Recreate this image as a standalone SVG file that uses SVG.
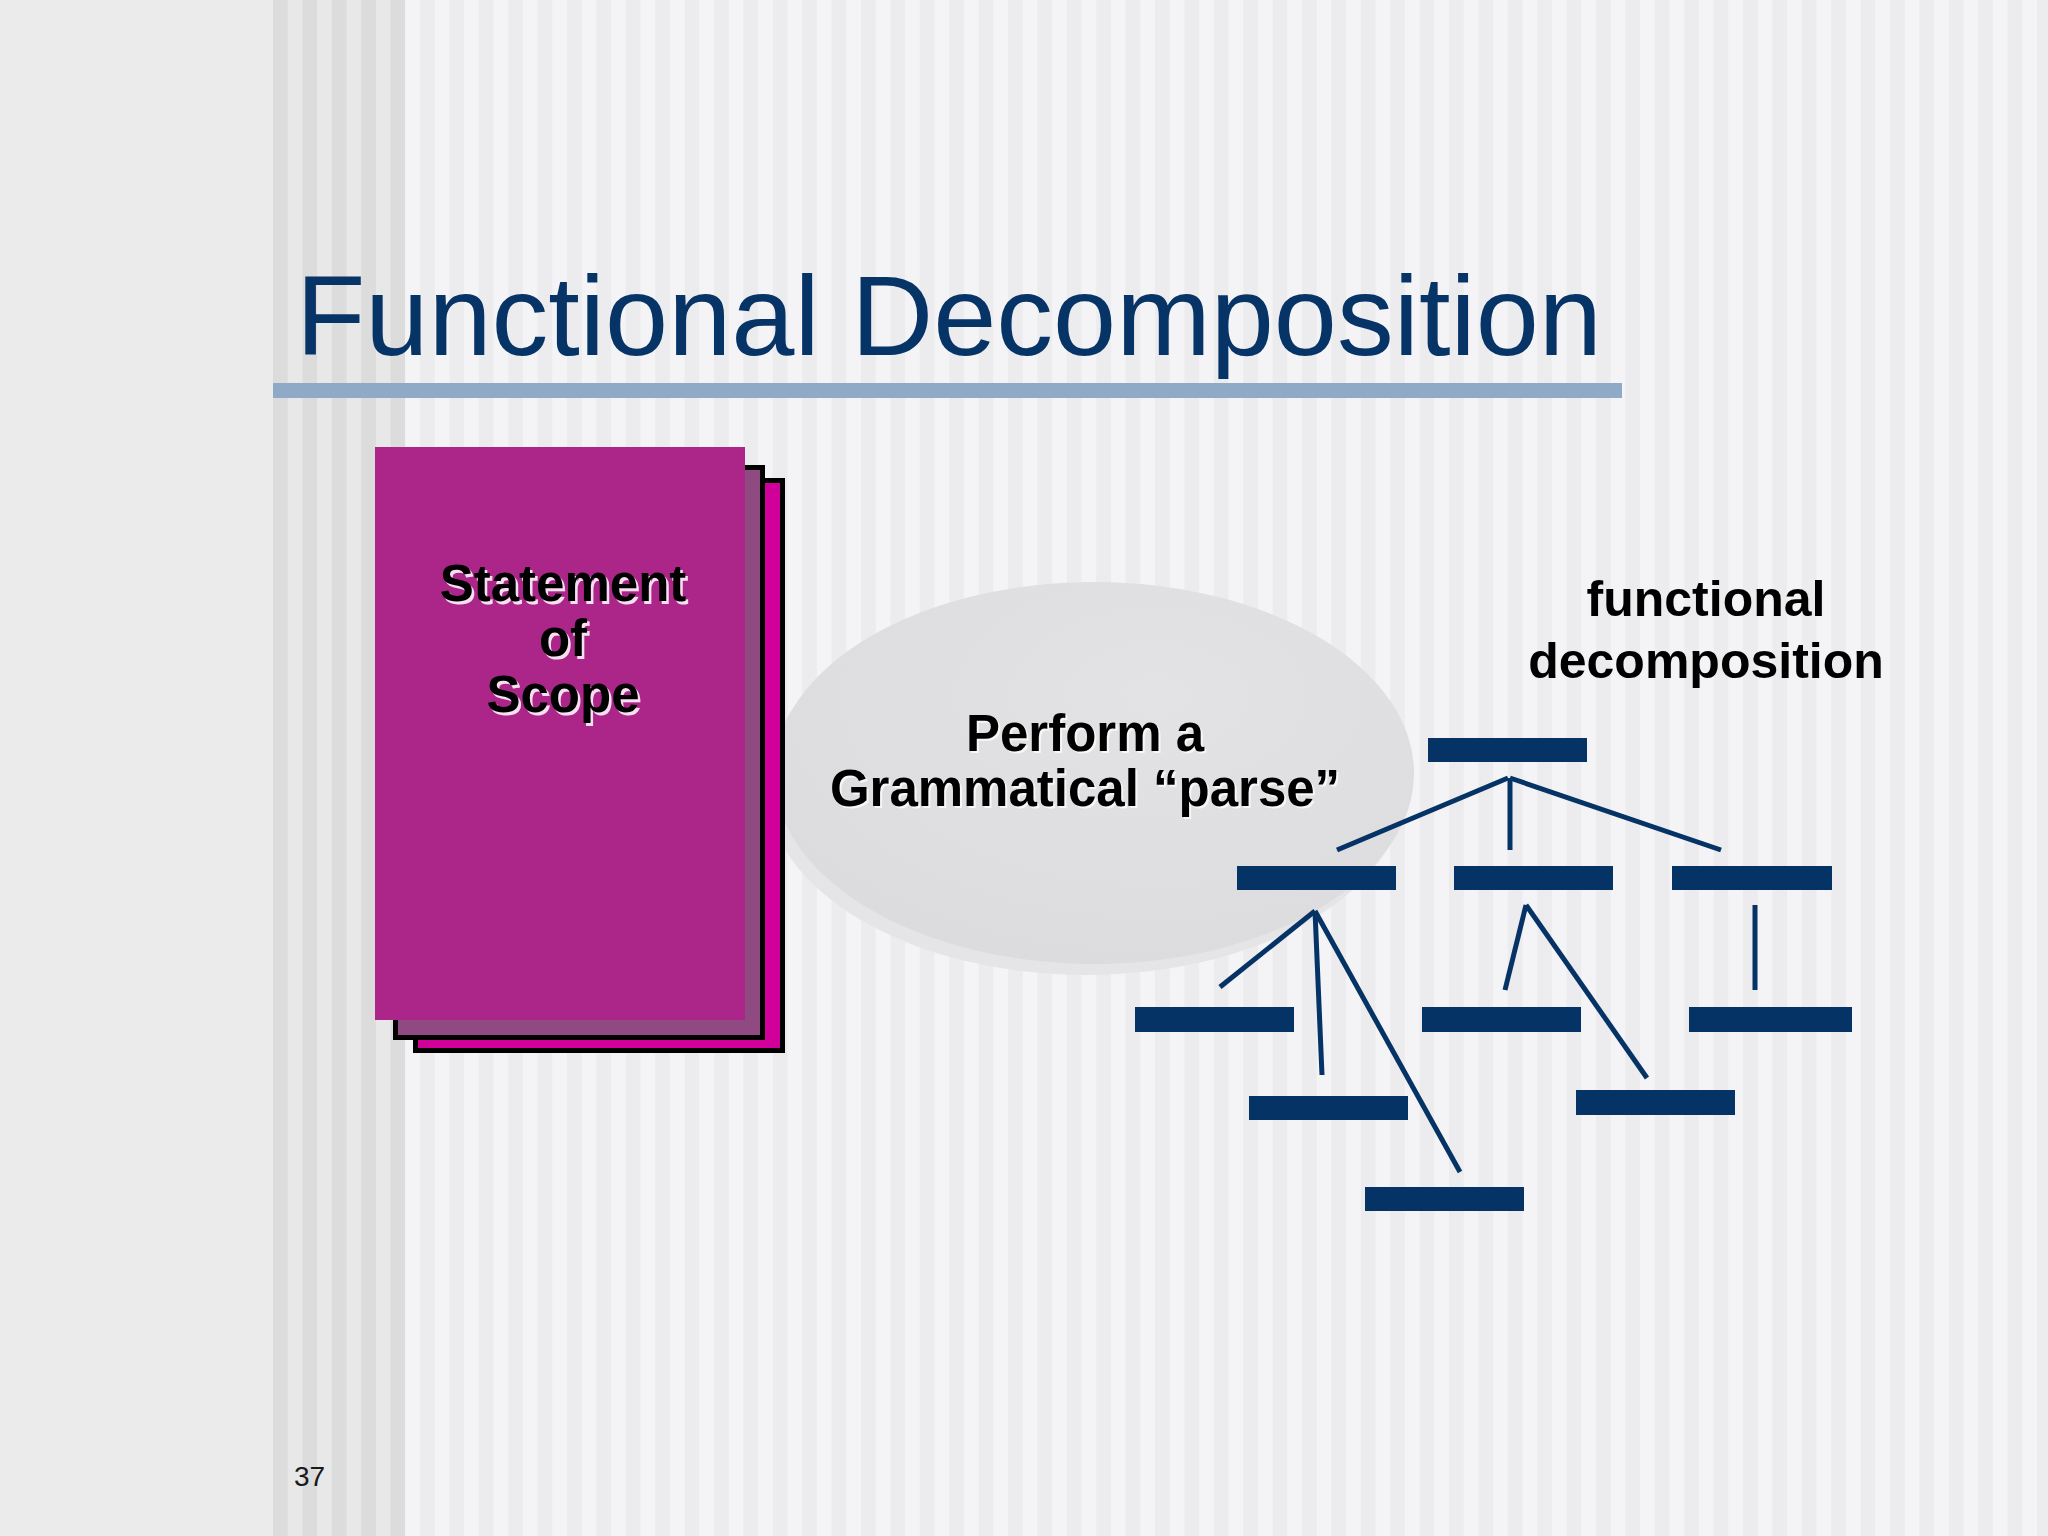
<svg xmlns="http://www.w3.org/2000/svg" width="2048" height="1536" viewBox="0 0 2048 1536">
  <defs>
    <pattern id="stripesDark" x="273" y="0" width="29.4" height="1536" patternUnits="userSpaceOnUse">
      <rect x="0" y="0" width="29.4" height="1536" fill="#e8e8e9"/>
      <rect x="0" y="0" width="14.7" height="1536" fill="#dcdcdd"/>
    </pattern>
    <pattern id="stripesLight" x="273" y="0" width="29.4" height="1536" patternUnits="userSpaceOnUse">
      <rect x="0" y="0" width="29.4" height="1536" fill="#f4f4f6"/>
      <rect x="0" y="0" width="14.7" height="1536" fill="#ececee"/>
    </pattern>
    <radialGradient id="ellGrad" cx="0.6" cy="0.3" r="0.8">
      <stop offset="0" stop-color="#e3e2e5"/>
      <stop offset="1" stop-color="#dbdadd"/>
    </radialGradient>
  </defs>
  <style>
    .bold { font-family: "Liberation Sans", Arial, sans-serif; font-weight: bold; fill: #000; text-anchor: middle; }
    .shadow { fill: #f6e0f0; }
    .shadow2 { fill: #f7f7f8; }
    .bar { fill: #063366; }
    .link { stroke: #063366; stroke-width: 5; fill: none; stroke-linecap: butt; }
  </style>

  <!-- background -->
  <g id="background">
    <rect x="0" y="0" width="2048" height="1536" fill="#ebebeb"/>
    <rect x="273" y="0" width="1775" height="1536" fill="url(#stripesLight)"/>
    <rect x="273" y="0" width="132" height="1536" fill="url(#stripesDark)"/>
  </g>

  <!-- title -->
  <g id="title">
    <text x="296" y="355" font-family="'Liberation Sans', Arial, sans-serif" font-size="113.5" fill="#073467">Functional Decomposition</text>
    <rect x="273" y="383" width="1349" height="15" fill="#8eaac6"/>
  </g>

  <!-- ellipse node -->
  <g id="parse">
    <ellipse cx="1086" cy="785" rx="320" ry="190" fill="#e5e5e7"/>
    <ellipse cx="1094" cy="773" rx="320" ry="191" fill="url(#ellGrad)"/>
    <text class="bold shadow2" x="1087" y="753" font-size="51">Perform a</text>
    <text class="bold shadow2" x="1087" y="808" font-size="51">Grammatical “parse”</text>
    <text class="bold" x="1085" y="751" font-size="51">Perform a</text>
    <text class="bold" x="1085" y="806" font-size="51">Grammatical “parse”</text>
  </g>

  <!-- book node -->
  <g id="statement">
    <rect x="415.5" y="480.5" width="367" height="570" fill="#d1009a" stroke="#000" stroke-width="5"/>
    <rect x="395.5" y="467.5" width="367" height="570" fill="#8f4a82" stroke="#000" stroke-width="5"/>
    <rect x="375" y="447" width="370" height="573" fill="#ac268a"/>
    <g font-size="51">
      <text class="bold shadow" x="565.5" y="603.5">Statement</text>
      <text class="bold shadow" x="565.5" y="658.5">of</text>
      <text class="bold shadow" x="565.5" y="714.5">Scope</text>
      <text class="bold" x="563" y="601">Statement</text>
      <text class="bold" x="563" y="656">of</text>
      <text class="bold" x="563" y="712">Scope</text>
    </g>
  </g>

  <!-- label -->
  <g id="label">
    <text class="bold" x="1706" y="616" font-size="50">functional</text>
    <text class="bold" x="1706" y="678" font-size="50">decomposition</text>
  </g>

  <!-- connectors -->
  <g id="connectors">
    <line class="link" x1="1508" y1="778" x2="1337" y2="850"/>
    <line class="link" x1="1510" y1="778" x2="1510" y2="850"/>
    <line class="link" x1="1510" y1="778" x2="1721" y2="850"/>
    <line class="link" x1="1315" y1="911" x2="1220" y2="987"/>
    <line class="link" x1="1315" y1="911" x2="1322" y2="1075"/>
    <line class="link" x1="1315" y1="911" x2="1460" y2="1172"/>
    <line class="link" x1="1526" y1="905" x2="1505" y2="990"/>
    <line class="link" x1="1526" y1="905" x2="1647" y2="1078"/>
    <line class="link" x1="1755" y1="905" x2="1755" y2="990"/>
  </g>

  <!-- tree nodes -->
  <g id="n-root"><rect class="bar" x="1428" y="738" width="159" height="24"/></g>
  <g id="n-a"><rect class="bar" x="1237" y="866" width="159" height="24"/></g>
  <g id="n-b"><rect class="bar" x="1454" y="866" width="159" height="24"/></g>
  <g id="n-c"><rect class="bar" x="1672" y="866" width="160" height="24"/></g>
  <g id="n-d"><rect class="bar" x="1135" y="1007" width="159" height="25"/></g>
  <g id="n-g"><rect class="bar" x="1422" y="1007" width="159" height="25"/></g>
  <g id="n-i"><rect class="bar" x="1689" y="1007" width="163" height="25"/></g>
  <g id="n-e"><rect class="bar" x="1249" y="1096" width="159" height="24"/></g>
  <g id="n-h"><rect class="bar" x="1576" y="1090" width="159" height="25"/></g>
  <g id="n-f"><rect class="bar" x="1365" y="1187" width="159" height="24"/></g>

  <!-- page number -->
  <g id="page-number">
    <text x="294" y="1486" font-family="'Liberation Sans', Arial, sans-serif" font-size="28" fill="#1a1a1a">37</text>
  </g>
</svg>
